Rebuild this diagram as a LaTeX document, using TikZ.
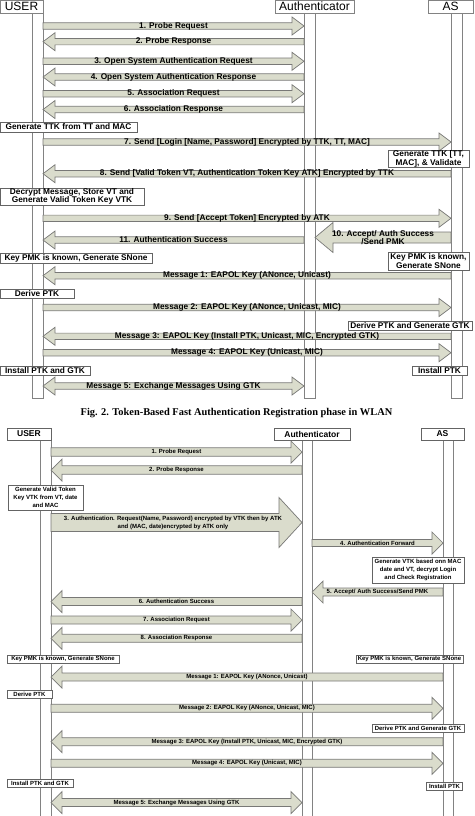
\documentclass[tikz,border=0pt]{standalone}
\usepackage{fontspec}
\setmainfont{Liberation Sans}
\newfontfamily\capfont{Liberation Serif}
\definecolor{arrowfill}{RGB}{218,220,204}
\definecolor{arrowline}{RGB}{120,120,118}
\definecolor{lifegray}{RGB}{130,130,130}
\definecolor{boxgray}{RGB}{100,100,100}
\newcommand\farr[6]{% tail tip y shafthalf headhalf headlen
  \pgfmathsetmacro\hbx{#2-(#6)*sign(#2-#1)}
  \filldraw[fatarrow] ({#1},{#3-#4}) -- (\hbx,{#3-#4}) -- (\hbx,{#3-#5}) -- ({#2},{#3})
    -- (\hbx,{#3+#5}) -- (\hbx,{#3+#4}) -- ({#1},{#3+#4}) -- cycle;}
\newcommand\darr[6]{% left right y shafthalf headhalf headlen
  \filldraw[fatarrow] ({#1},{#3}) -- ({#1+#6},{#3-#5}) -- ({#1+#6},{#3-#4}) -- ({#2-#6},{#3-#4})
    -- ({#2-#6},{#3-#5}) -- ({#2},{#3}) -- ({#2-#6},{#3+#5}) -- ({#2-#6},{#3+#4})
    -- ({#1+#6},{#3+#4}) -- ({#1+#6},{#3+#5}) -- cycle;}
\tikzset{
  fatarrow/.style={draw=arrowline, fill=arrowfill, line width=0.7pt},
  lifeline/.style={draw=lifegray, fill=white, line width=0.7pt},
  hdrA/.style={draw=lifegray, fill=white, line width=0.7pt, inner sep=0pt, font=\fontsize{12}{12}\selectfont},
  hdrB/.style={draw=boxgray, fill=white, line width=0.7pt, inner sep=0pt, font=\fontsize{8.5}{9}\selectfont\bfseries},
  noteA/.style={draw=boxgray, fill=white, line width=0.7pt, inner sep=0pt, align=center, font=\fontsize{8.3}{8.6}\selectfont\bfseries},
  noteB/.style={draw=boxgray, fill=white, line width=0.6pt, inner sep=0pt, align=center, font=\fontsize{6}{8}\selectfont\bfseries},
  labA/.style={inner sep=0pt, align=center, font=\fontsize{8.3}{7.5}\selectfont\bfseries},
  labB/.style={inner sep=0pt, align=center, font=\fontsize{6}{8}\selectfont\bfseries},
}
\begin{document}
\begin{tikzpicture}[x=1pt,y=-1pt]
\useasboundingbox (0,0) rectangle (474,816);
\fill[white] (0,0) rectangle (474,816);
% ================= TOP DIAGRAM =================
\draw[lifeline] (32,13) rectangle (43,398);
\draw[lifeline] (304,13) rectangle (315,398);
\draw[lifeline] (451,13) rectangle (462,398);
\node[hdrA, minimum width=43, minimum height=13] (uA) at (21.5,6.5) {USER};
\node[hdrA, minimum width=79, minimum height=13] (aA) at (314.5,6.5) {Authenticator};
\node[hdrA, minimum width=45, minimum height=13] (sA) at (450.5,6.5) {AS};

\farr{43}{304}{26}{3.2}{9}{12}
\node[labA] (a1) at (173.5,26) {1. Probe Request};
\farr{304}{43}{41.7}{3.2}{9}{12}
\node[labA] (a2) at (173.5,41.7) {2. Probe Response};
\farr{43}{304}{61.3}{3.2}{9}{12}
\node[labA] (a3) at (173.5,61.3) {3. Open System Authentication Request};
\farr{304}{43}{77}{3.2}{9}{12}
\node[labA] (a4) at (173.5,77) {4. Open System Authentication Response};
\farr{43}{304}{93.7}{3.2}{9}{12}
\node[labA] (a5) at (173.5,93.7) {5. Association Request};
\farr{304}{43}{109.5}{3.2}{9}{12}
\node[labA] (a6) at (173.5,109.5) {6. Association Response};

\node[noteA, minimum width=137, minimum height=10] (nA1) at (68.5,127) {Generate TTK from TT and MAC};
\farr{43}{451}{142}{3.2}{9}{12}
\node[labA] (a7) at (247,142) {7. Send [Login [Name, Password] Encrypted by TTK, TT, MAC]};
\node[noteA, minimum width=81, minimum height=16.5] (nA2) at (428.5,159) {Generate TTK [TT,\\MAC], \& Validate};
\farr{451}{43}{173.7}{3.2}{9}{12}
\node[labA] (a8) at (247,173.7) {8. Send [Valid Token VT, Authentication Token Key ATK] Encrypted by TTK};
\node[noteA, minimum width=144, minimum height=17] (nA3) at (72,196.5) {Decrypt Message, Store VT and\\Generate Valid Token Key VTK};
\farr{43}{451}{218.3}{3.2}{9}{12}
\node[labA] (a9) at (247,218.3) {9. Send [Accept Token] Encrypted by ATK};
\farr{451}{315}{237.5}{5.5}{15}{18}
\node[labA] (a10) at (383,237.5) {10. Accept/ Auth Success\\/Send PMK};
\farr{304}{43}{240}{3.2}{9}{12}
\node[labA] (a11) at (173.5,240) {11. Authentication Success};

\node[noteA, minimum width=152, minimum height=9.5] (nA4) at (76,258.5) {Key PMK is known, Generate SNone};
\node[noteA, minimum width=81, minimum height=18] (nA5) at (428.5,261) {Key PMK is known,\\Generate SNone};
\farr{451}{43}{275.7}{3.2}{9}{12}
\node[labA] (m1) at (247,275.7) {Message 1: EAPOL Key (ANonce, Unicast)};
\node[noteA, minimum width=74, minimum height=9] (nA6) at (37,293.5) {Derive PTK};
\farr{43}{451}{307.5}{3.2}{9}{12}
\node[labA] (m2) at (247,307.5) {Message 2: EAPOL Key (ANonce, Unicast, MIC)};
\node[noteA, minimum width=124, minimum height=9] (nA7) at (410,326) {Derive PTK and Generate GTK};
\farr{451}{43}{336.3}{3.2}{9}{12}
\node[labA] (m3) at (247,336.3) {Message 3: EAPOL Key (Install PTK, Unicast, MIC, Encrypted GTK)};
\farr{43}{451}{352.7}{3.2}{9}{12}
\node[labA] (m4) at (247,352.7) {Message 4: EAPOL Key (Unicast, MIC)};
\node[noteA, minimum width=90, minimum height=9] (nA8) at (45,371) {Install PTK and GTK};
\node[noteA, minimum width=55, minimum height=9] (nA9) at (439.5,371) {Install PTK};
\darr{43}{304}{386}{3.2}{9}{12}
\node[labA] (m5) at (173.5,386) {Message 5: Exchange Messages Using GTK};

\node[inner sep=0pt, font=\capfont\fontsize{10.4}{10.4}\selectfont\bfseries] (cap) at (236.5,413)
  {Fig. 2. Token-Based Fast Authentication Registration phase in WLAN};

% ================= BOTTOM DIAGRAM =================
\draw[lifeline] (40,440) rectangle (51,830);
\draw[lifeline] (302,440) rectangle (312,830);
\draw[lifeline] (443,440) rectangle (453,830);
\node[hdrB, minimum width=44, minimum height=12] (uB) at (29,434) {USER};
\node[hdrB, minimum width=76, minimum height=12] (aB) at (312,434) {Authenticator};
\node[hdrB, minimum width=43, minimum height=12] (sB) at (442.5,434) {AS};

\farr{51}{302}{452}{4.2}{11}{11}
\node[labB] (b1) at (176.5,452) {1. Probe Request};
\farr{302}{51}{470}{4.2}{11}{11}
\node[labB] (b2) at (176.5,470) {2. Probe Response};
\node[noteB, minimum width=75, minimum height=25] (nB1) at (45.5,497.5) {Generate Valid Token\\Key VTK from VT, date\\and MAC};
\farr{51}{302}{522.5}{9}{25}{23}
\node[labB] (b3) at (173,522.5) {3. Authentication. Request(Name, Password) encrypted by VTK then by ATK\\and (MAC, date)encrypted by ATK only};
\farr{312}{443}{543}{3.5}{11}{11}
\node[labB] (b4) at (377.5,543) {4. Authentication Forward};
\node[noteB, minimum width=92, minimum height=26] (nB2) at (418,570) {Generate VTK based onn MAC\\date and VT, decrypt Login\\and Check Registration};
\farr{443}{312}{592}{4}{11}{11}
\node[labB] (b5) at (377.5,592) {5. Accept/ Auth Success/Send PMK};
\farr{302}{51}{601.5}{4}{11}{11}
\node[labB] (b6) at (176.5,601.5) {6. Authentication Success};
\farr{51}{302}{620}{4}{11}{11}
\node[labB] (b7) at (176.5,620) {7. Association Request};
\farr{302}{51}{638.3}{4}{11}{11}
\node[labB] (b8) at (176.5,638.3) {8. Association Response};

\node[noteB, minimum width=112, minimum height=8] (nB3) at (63,659) {Key PMK is known, Generate SNone};
\node[noteB, minimum width=107, minimum height=8] (nB4) at (409.5,659) {Key PMK is known, Generate SNone};
\farr{443}{51}{677}{4}{11}{11}
\node[labB] (c1) at (247,677) {Message 1: EAPOL Key (ANonce, Unicast)};
\node[noteB, minimum width=45, minimum height=8] (nB5) at (29.5,694.5) {Derive PTK};
\farr{51}{443}{708.3}{4}{11}{11}
\node[labB] (c2) at (247,708.3) {Message 2: EAPOL Key (ANonce, Unicast, MIC)};
\node[noteB, minimum width=92, minimum height=8.5] (nB6) at (418,728.5) {Derive PTK and Generate GTK};
\farr{443}{51}{741.7}{4}{11}{11}
\node[labB] (c3) at (247,741.7) {Message 3: EAPOL Key (Install PTK, Unicast, MIC, Encrypted GTK)};
\farr{51}{443}{763.3}{4}{11}{11}
\node[labB] (c4) at (247,763.3) {Message 4: EAPOL Key (Unicast, MIC)};
\node[noteB, minimum width=66, minimum height=8] (nB7) at (40,783) {Install PTK and GTK};
\node[noteB, minimum width=36, minimum height=8] (nB8) at (444.5,786.7) {Install PTK};
\darr{51}{302}{802.5}{4}{11}{11}
\node[labB] (c5) at (176.5,802.5) {Message 5: Exchange Messages Using GTK};
\end{tikzpicture}
\end{document}
